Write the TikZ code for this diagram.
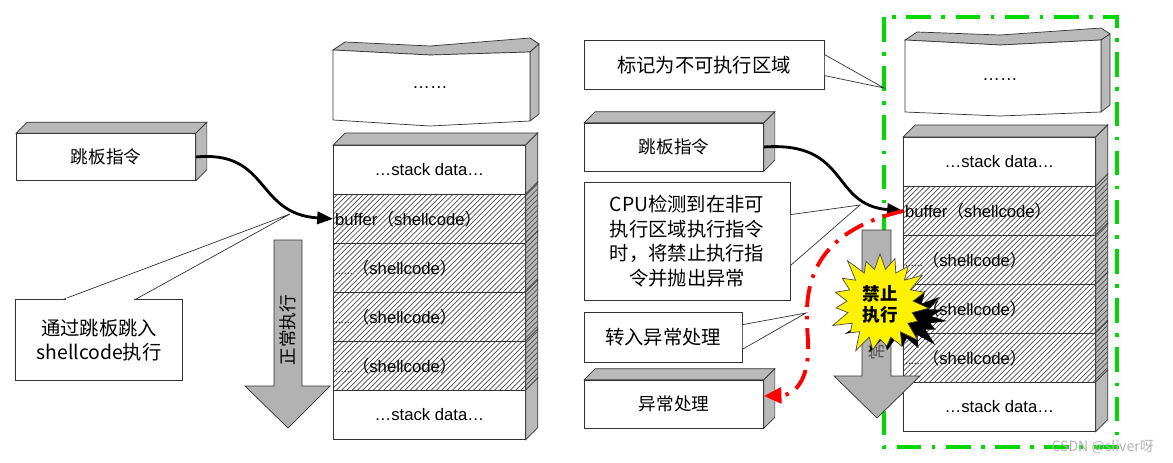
\documentclass[tikz,border=0pt]{standalone}
\usepackage{fontspec}
\setmainfont{Liberation Sans}
\newfontfamily\cjk{Noto Sans CJK SC}
\usetikzlibrary{patterns,shapes.symbols,arrows.meta}
\newdimen\px \px=0.02cm
% depth faces of a box node
\newcommand{\topface}[2][11]{%
  \fill[gray!55,draw=black!80] (#2.north west) -- ++(#1,-#1) -- ([shift={(#1,-#1)}]#2.north east) -- (#2.north east) -- cycle;}
\newcommand{\sideface}[2][11]{%
  \fill[gray!55,draw=black!80] (#2.north east) -- ++(#1,-#1) -- ([shift={(#1,-#1)}]#2.south east) -- (#2.south east) -- cycle;}
\newcommand{\depthbox}[2][11]{\topface[#1]{#2}\sideface[#1]{#2}}
\newcommand{\paren}[1]{{\cjk（}#1{\cjk）}}
\newcommand{\sdots}{{\fontsize{6}{7}\selectfont......}}
\begin{document}
\begin{tikzpicture}[x=0.02cm,y=-0.02cm,
    box/.style={rectangle, draw=black!80, fill=white, inner sep=0, font=\cjk\fontsize{10}{12}\selectfont},
    note/.style={box, align=center, font=\cjk\fontsize{11}{14}\selectfont},
    row/.style={box, font=\fontsize{9.5}{11}\selectfont, minimum width=192*\px, minimum height=49*\px, anchor=north west},
    hatched/.style={pattern=north east lines, pattern color=black!70},
    flow/.style={fill=gray!60, draw=black!80},
    jump/.style={line width=1.6pt, -{Triangle[length=9pt,width=7pt]}},
    wedge/.style={fill=white, draw=black!80}
  ]
  \useasboundingbox (0,0) rectangle (1173,463);

  % ---------- left: normal execution ----------
  \node[box, minimum width=179*\px, minimum height=47*\px] (jmp_l) at (106,157) {跳板指令};
  \depthbox{jmp_l}

  % torn upper block
  \fill[gray!55,draw=black!80] (333,50) -- (345,42) -- (430,46) -- (530,38) -- (539,44) -- (530,52) -- (430,55) -- cycle;
  \fill[gray!55,draw=black!80] (530,52) -- (539,44) -- (539,114) -- (530,121) -- cycle;
  \draw[fill=white,draw=black!80] (333,50) -- (430,55) -- (530,52) -- (530,121) -- (430,126) -- (333,120) -- cycle;
  \node (dots_l) at (430,88) {……};

  % stack
  \foreach \n/\t/\h in {1/{\dots stack data\dots}/0, 2/{buffer\paren{shellcode}}/1, 3/{\sdots\paren{shellcode}}/1,
                        4/{\sdots\paren{shellcode}}/1, 5/{\sdots\paren{shellcode}}/1, 6/{\dots stack data\dots}/0} {
    \ifnum\h=1
      \node[row, hatched] (stl\n) at (333,{145+49*(\n-1)}) {};
      \node[anchor=west, inner sep=1pt, font=\fontsize{9.5}{11}\selectfont] at (stl\n.west) {\t};
    \else
      \node[row] (stl\n) at (333,{145+49*(\n-1)}) {\t};
    \fi
    \ifnum\n=1 \topface[12]{stl\n} \fi
    \sideface[12]{stl\n}
    \ifnum\h=1 \fill[hatched] (stl\n.north east) -- ++(12,-12) -- ([shift={(12,-12)}]stl\n.south east) -- (stl\n.south east) -- cycle; \fi
  }

  % normal flow arrow
  \draw[flow] (274,240) -- (302,240) -- (302,386) -- (330,386) -- (288,428) -- (245,386) -- (274,386) -- cycle;
  \node[rotate=90, font=\cjk\fontsize{10}{12}\selectfont] (normal) at (288,330) {正常执行};

  % callout
  \node[note, minimum width=167*\px, minimum height=81*\px] (call_l) at (99,340) {通过跳板跳入\\shellcode执行};
  \coordinate (tip_l) at (290,214);
  \fill[wedge] ([xshift=-20]call_l.north) -- (tip_l) -- ([xshift=21]call_l.north) -- cycle;
  \draw[white,line width=1pt] ([xshift=-19]call_l.north) -- ([xshift=20]call_l.north);

  \draw[jump] (jmp_l.east) .. controls (270,150) and (255,214) .. (stl2.west);

  % ---------- right: DEP ----------
  \draw[green!85!black, line width=2.4pt, dash pattern=on 14pt off 6pt on 2pt off 6pt] (884,17) rectangle (1117,447);

  \fill[gray!55,draw=black!80] (905,40) -- (917,32) -- (1000,35) -- (1101,28) -- (1110,34) -- (1101,40) -- (1000,45) -- cycle;
  \fill[gray!55,draw=black!80] (1101,40) -- (1110,34) -- (1110,105) -- (1101,112) -- cycle;
  \draw[fill=white,draw=black!80] (905,40) -- (1000,45) -- (1101,40) -- (1101,112) -- (1000,116) -- (905,112) -- cycle;
  \node (dots_r) at (1000,80) {……};

  \foreach \n/\t/\h in {1/{\dots stack data\dots}/0, 2/{buffer\paren{shellcode}}/1, 3/{\sdots\paren{shellcode}}/1,
                        4/{\sdots\paren{shellcode}}/1, 5/{\sdots\paren{shellcode}}/1, 6/{\dots stack data\dots}/0} {
    \ifnum\h=1
      \node[row, hatched] (str\n) at (903,{137+49*(\n-1)}) {};
      \node[anchor=west, inner sep=1pt, font=\fontsize{9.5}{11}\selectfont] at (str\n.west) {\t};
    \else
      \node[row] (str\n) at (903,{137+49*(\n-1)}) {\t};
    \fi
    \ifnum\n=1 \topface[12]{str\n} \fi
    \sideface[12]{str\n}
    \ifnum\h=1 \fill[hatched] (str\n.north east) -- ++(12,-12) -- ([shift={(12,-12)}]str\n.south east) -- (str\n.south east) -- cycle; \fi
  }

  \node[note, minimum width=240*\px, minimum height=49*\px] (mark) at (704,65) {标记为不可执行区域};
  \coordinate (tip_mark) at (884,88);
  \fill[wedge] ([yshift=-6]mark.east) -- (tip_mark) -- ([yshift=6]mark.east) -- cycle;

  \node[box, minimum width=179*\px, minimum height=48*\px] (jmp_r) at (674,147) {跳板指令};
  \depthbox{jmp_r}

  \node[note, minimum width=206*\px, minimum height=118*\px] (cpu) at (687,241) {CPU检测到在非可\\执行区域执行指令\\时，将禁止执行指\\令并抛出异常};
  \coordinate (tip_cpu) at (860,205);
  \fill[wedge] ([yshift=-14]cpu.east) -- (tip_cpu) -- ([yshift=15]cpu.east) -- cycle;

  \node[note, minimum width=158*\px, minimum height=50*\px] (trap) at (663,337) {转入异常处理};
  \coordinate (tip_trap) at (806,313);
  \fill[wedge] ([yshift=-7]trap.east) -- (tip_trap) -- ([yshift=7]trap.east) -- cycle;

  \node[box, minimum width=179*\px, minimum height=48*\px] (handler) at (674,404) {异常处理};
  \depthbox{handler}

  \draw[flow] (862,230) -- (891,230) -- (891,376) -- (920,376) -- (877,418) -- (834,376) -- (862,376) -- cycle;
  \node[rotate=90, font=\cjk\fontsize{10}{12}\selectfont, gray!70!black] (normal_r) at (877,352) {常};

  \draw[jump] (jmp_r.east) .. controls (850,141) and (830,205) .. (str2.west);

  % forbidden burst
  \node[starburst, starburst points=19, starburst point height=12pt, fill=black, minimum width=2.3cm, minimum height=1.7cm] (shadow) at (895,318) {};
  \node[starburst, starburst points=19, starburst point height=12pt, fill=yellow, draw=black!70, minimum width=2.1cm, minimum height=1.6cm,
        font=\cjk\bfseries\fontsize{10}{12}\selectfont, align=center] (ban) at (880,304) {禁止\\执行};

  \coordinate (exc_start) at (903,211);
  \draw[red, line width=2.2pt, dash pattern=on 12pt off 5pt on 2pt off 5pt, -{Triangle[length=10pt,width=9pt]}]
    (exc_start) .. controls (800,235) and (805,300) .. (808,340) .. controls (810,380) and (795,395) .. (handler.east |- 0,396);

  \node[gray!60, font=\cjk\fontsize{8}{10}\selectfont, anchor=east] (mark_src) at (1160,447) {CSDN @sliver呀};
\end{tikzpicture}
\end{document}
